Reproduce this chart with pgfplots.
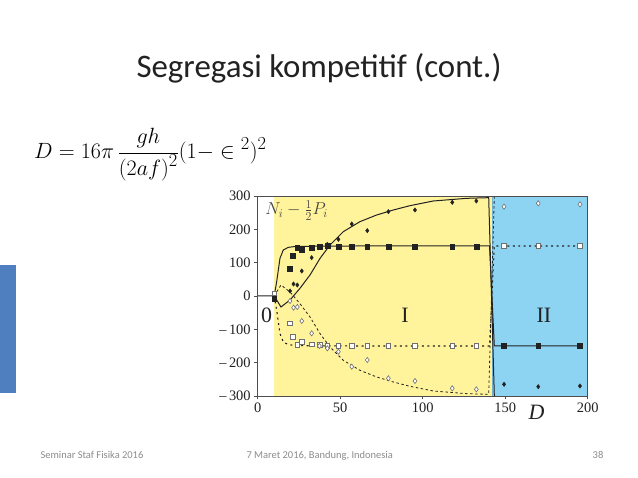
\documentclass[border=0pt]{standalone}
\usepackage{fontspec}
\setmainfont{Carlito}
\newfontfamily\tnr{Liberation Serif}
\usepackage{pgfplots}
\pgfplotsset{compat=1.18}

\definecolor{slideBlue}{HTML}{4F7FBF}
\definecolor{regI}{HTML}{FFF39B}
\definecolor{regII}{HTML}{8DD3F2}
\definecolor{regIIedge}{HTML}{6FAFCF}
\definecolor{footGray}{HTML}{8C8C8C}
\definecolor{ink}{HTML}{222222}
\definecolor{openCol}{HTML}{707070}

% solid curves (N - P/2 type), mirrored dashed curves are their negatives
\pgfplotstableread{
D     v
0     0
10    0
11.5  43
13.5  113
15.5  138
18.6  146
23.6  149
60    150
140.5 150
143.4 -150
195   -150
}\sqline
\pgfplotstableread{
D     v
10    0
14.1  -33
19.6  -12
25.6  23
31.7  63
37.8  113
43.8  153
51.9  193
62    223
72.1  243
82.2  258
92.3  271
106.4 285
126.6 293
140   295
143.4 -300
}\dmline
\pgfplotstableread{
D     v
10    0
11.5  -43
13.5  -113
15.5  -138
18.6  -146
23.6  -149
60    -150
140.5 -150
143.4 150
195   150
}\sqmirror
\pgfplotstableread{
D     v
10    0
14.1  33
19.6  12
25.6  -23
31.7  -63
37.8  -113
43.8  -153
51.9  -193
62    -223
72.1  -243
82.2  -258
92.3  -271
106.4 -285
126.6 -293
140   -295
143.4 300
}\dmmirror

\begin{document}
\begin{tikzpicture}[x=1bp,y=1bp]
  \path[fill=white,use as bounding box] (0,0) rectangle (638,478);

  % slide decorations
  \fill[slideBlue] (0,478-393) rectangle (16,478-265);
  \node[font=\fontsize{33}{36}\selectfont,text=ink] at (319,410) {Segregasi kompetitif (cont.)};
  \node[anchor=west,scale=0.89,font=\fontsize{24.88}{28}\selectfont] at (31,323)
    {$\displaystyle D=16\pi\,\frac{gh}{\bigl(2af\bigr)^{2}}\Bigl(1-\in{}^{2}\Bigr)^{2}$};
  \node[anchor=base west,font=\fontsize{10.5}{12}\selectfont,text=footGray] at (37,19) {Seminar Staf Fisika 2016};
  \node[anchor=base west,font=\fontsize{10.5}{12}\selectfont,text=footGray] at (243,19) {7 Maret 2016, Bandung, Indonesia};
  \node[anchor=base,font=\fontsize{10.5}{12}\selectfont,text=footGray] at (598,19) {38};

  \begin{axis}[
      at={(257.7bp,82bp)}, anchor=south west,
      scale only axis, width=330bp, height=200bp,
      xmin=0, xmax=200, ymin=-300, ymax=300,
      xtick pos=bottom, ytick pos=left,
      axis line style={draw=ink!80, line width=0.8pt},
      xtick={0,50,100,150,200},
      ytick={-300,-200,-100,0,100,200,300},
      yticklabels={\textendash\,300,\textendash\,200,\textendash\,100,0,100,200,300},
      xticklabels={0,50,100,150,200},
      tick align=outside, major tick length=3.5bp,
      tick style={draw=ink!80, line width=0.7pt},
      tick label style={font=\tnr\fontsize{14.5}{15}\selectfont, text=ink},
      /pgf/number format/assume math mode=true,
      axis on top,
      clip=false,
    ]
    % regions
    \addplot[fill=regI, draw=none] coordinates {(10,-300) (142,-300) (142,300) (10,300)} -- cycle;
    \addplot[fill=regII, draw=regIIedge, line width=0.6pt] coordinates {(142,-300) (200,-300) (200,300) (142,300)} -- cycle;

    % curves
    \addplot[ink, line width=1pt, no marks] table[x=D,y=v] {\sqline};
    \addplot[ink, line width=1pt, no marks] table[x=D,y=v] {\dmline};
    \addplot[ink, line width=1.1pt, no marks, dash pattern=on 2pt off 3.5pt] table[x=D,y=v] {\sqmirror};
    \addplot[ink, line width=0.8pt, no marks, dash pattern=on 2.5pt off 2.5pt] table[x=D,y=v] {\dmmirror};

    % filled squares
    \addplot[only marks, mark=square*, mark size=2.4pt, color=ink] coordinates {
      (10,-7) (19.6,83) (21.2,121) (24,146) (26.7,139) (32.7,145) (37.4,147)
      (42.2,150) (48.9,149) (57,149) (66.4,149) (79.2,149) (95.3,149)
      (117.9,149) (132.5,149) (149.3,-150) (170,-150) (195.3,-150)};
    % open squares
    \addplot[only marks, mark=square*, mark size=2.4pt, draw=openCol, fill=white, line width=0.6pt] coordinates {
      (10,8) (19.6,-82) (21.2,-122) (24,-147) (26.7,-137) (32.7,-145) (37.4,-147)
      (42.2,-150) (48.9,-150) (57,-150) (66.4,-150) (79.2,-150) (95.3,-150)
      (117.9,-150) (132.5,-150) (149.3,150) (170,150) (195.3,150)};
    % filled diamonds
    \addplot[only marks, mark=diamond*, mark size=2.2pt, color=ink] coordinates {
      (19.6,15) (21.7,36) (24,33) (26.7,75) (32.7,115) (37.4,148) (42.2,155)
      (48.9,170) (57,216) (66.4,196) (79.2,253) (95.3,258) (117.9,281)
      (132.5,285) (149.3,-265) (170,-272) (195.3,-270)};
    % open diamonds
    \addplot[only marks, mark=diamond*, mark size=2.6pt, draw=openCol, fill=white, line width=0.6pt] coordinates {
      (19.6,-15) (21.7,-35) (24,-33) (26.7,-75) (32.7,-112) (37.4,-150) (42.2,-157)
      (48.9,-167) (57,-212) (66.4,-192) (79.2,-247) (95.3,-255) (117.9,-277)
      (132.5,-280) (149.3,268) (170,278) (195.3,275)};

    % annotations
    \node[anchor=west, font=\fontsize{17.28}{18}\selectfont, text=ink!85] at (axis cs:2.5,256) {$N_i-\frac{1}{2}P_i$};
    \node[font=\tnr\fontsize{22}{22}\selectfont, text=ink] at (axis cs:5.4,-57) {0};
    \node[font=\tnr\fontsize{22}{22}\selectfont, text=ink] at (axis cs:89.3,-57) {I};
    \node[font=\tnr\fontsize{22}{22}\selectfont, text=ink] at (axis cs:173.5,-57) {II};
    \node[font=\tnr\itshape\fontsize{22}{24}\selectfont, text=ink] at (axis cs:169,-348) {D};
  \end{axis}
\end{tikzpicture}
\end{document}
